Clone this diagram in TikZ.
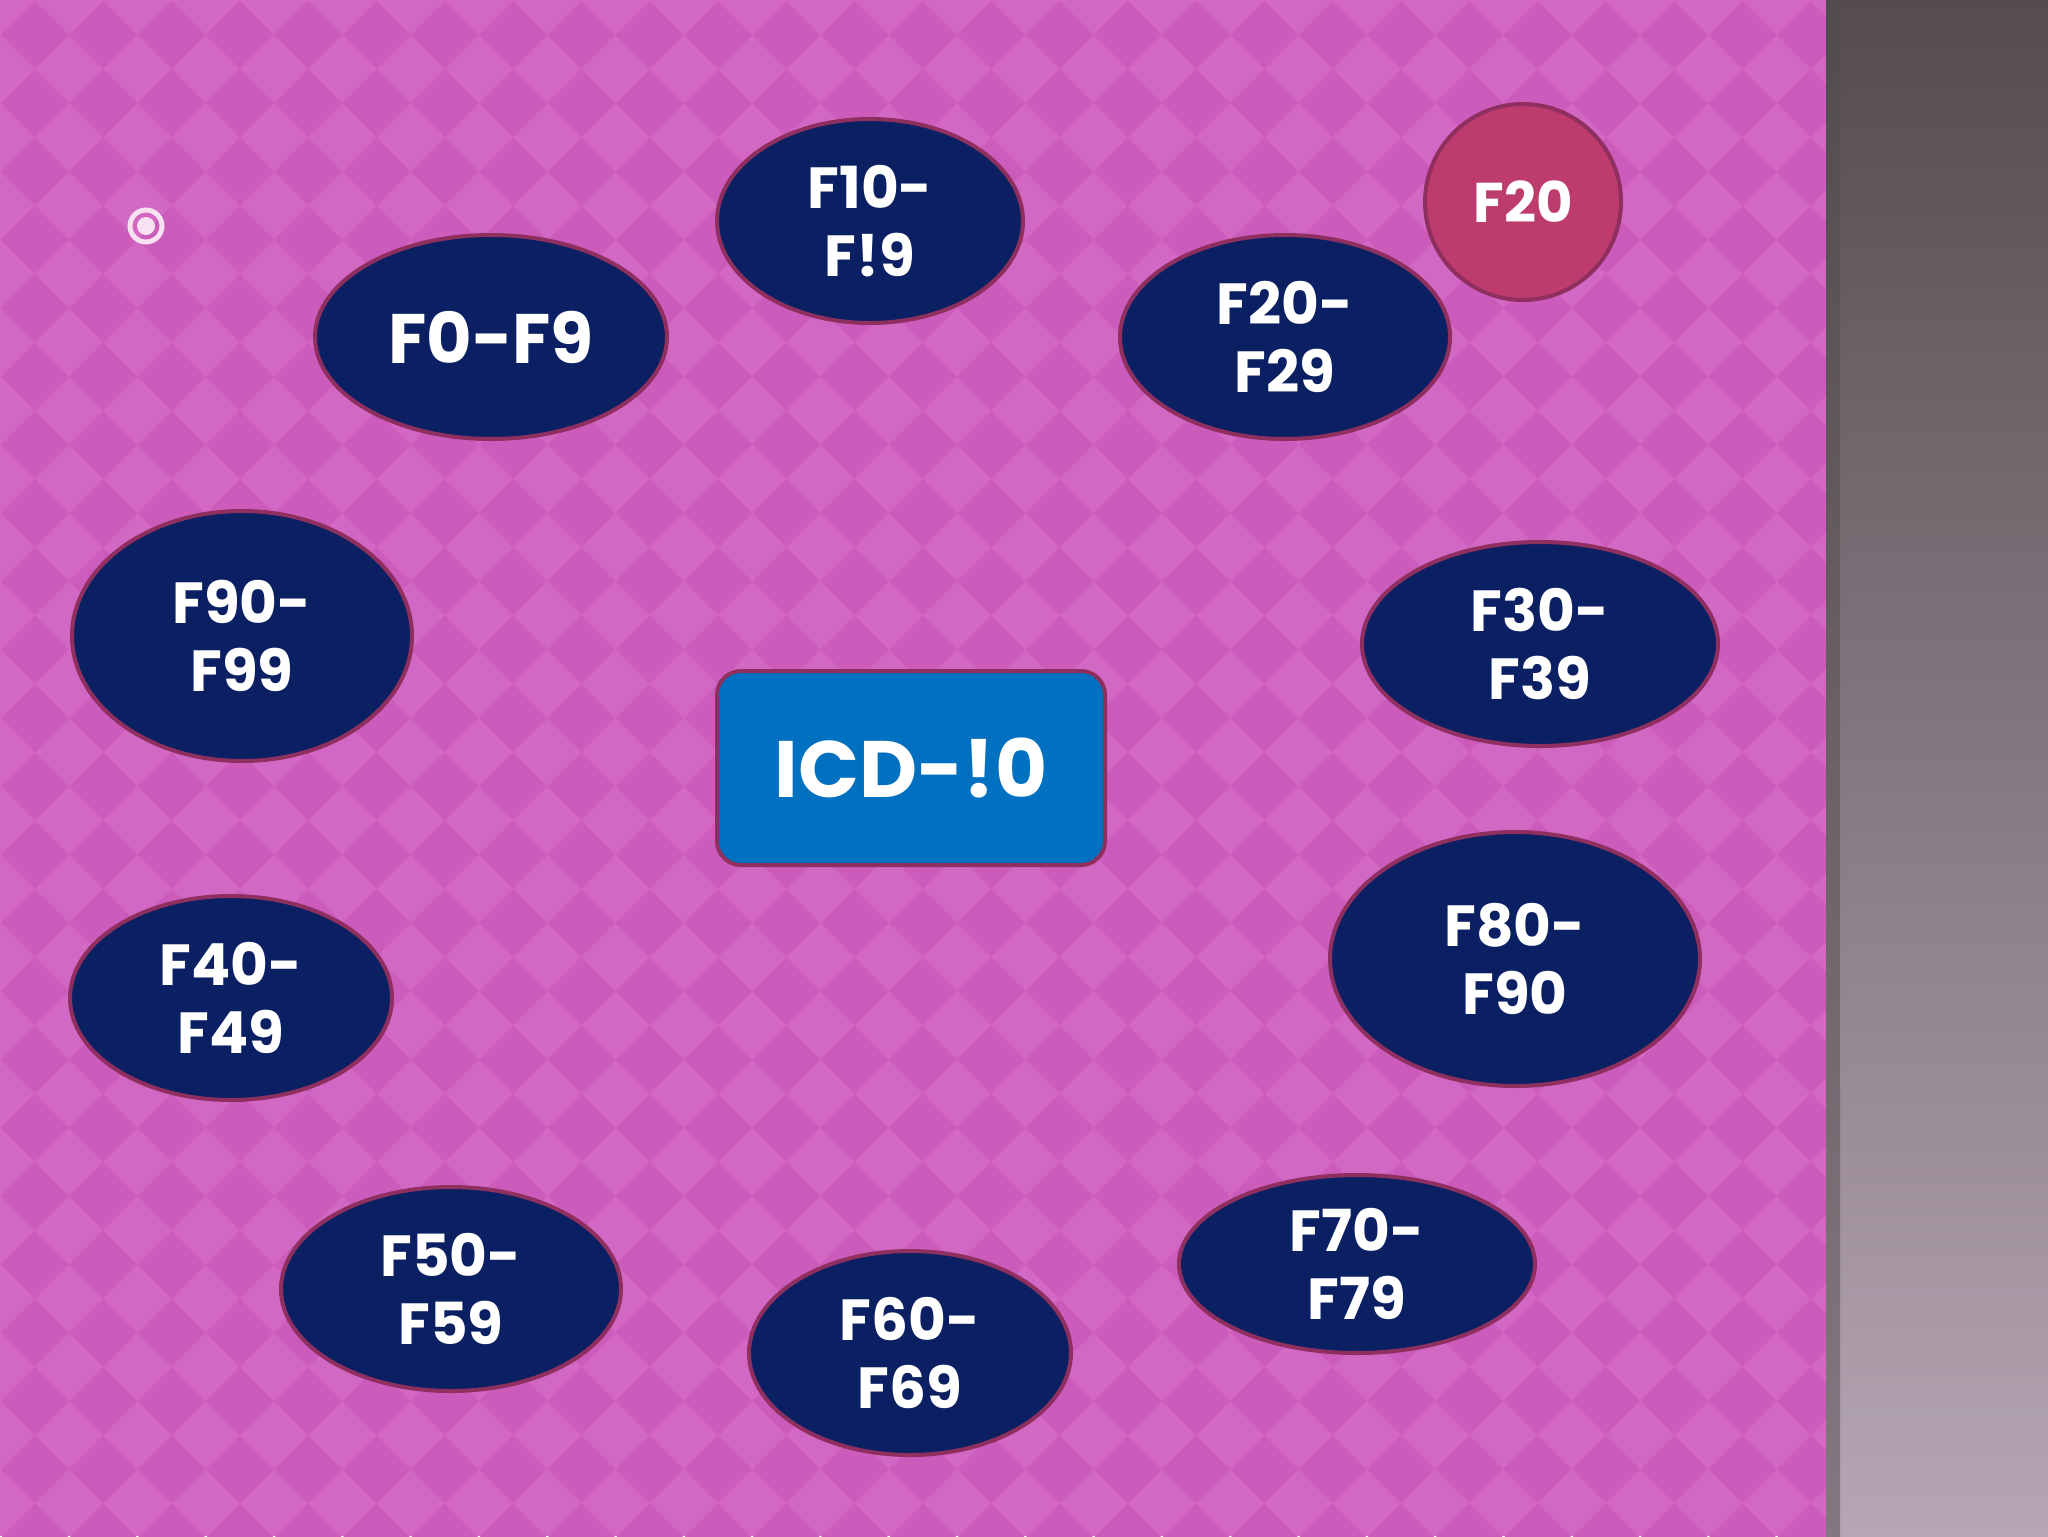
\documentclass[tikz,border=0pt]{standalone}
\usepackage{fontspec}
\setmainfont{Poppins}
\usetikzlibrary{shapes.geometric, positioning, backgrounds}
\definecolor{slidepink}{HTML}{D367C4}
\definecolor{diamondpink}{HTML}{CB5CBB}
\definecolor{navyfill}{HTML}{0B2062}
\definecolor{plumline}{HTML}{8E2F5F}
\definecolor{rosefill}{HTML}{BE3B6D}
\definecolor{icdblue}{HTML}{0070C0}
\definecolor{paneldark}{HTML}{544C4E}
\definecolor{panellight}{HTML}{B6A6B4}
\definecolor{bulletwhite}{HTML}{F8E2F2}
\tikzset{
  % Code range ellipses
  codegroup/.style={
    ellipse, draw=plumline, fill=navyfill, line width=2pt, text=white,
    font=\fontsize{29}{34}\selectfont\bfseries, align=center, inner sep=0pt,
  },
  % Single code circle
  codesingle/.style={
    circle, draw=plumline, fill=rosefill, line width=2pt, text=white,
    font=\fontsize{28}{32}\selectfont\bfseries, minimum size=98pt, inner sep=0pt,
  },
  % Central box
  hubbox/.style={
    rectangle, rounded corners=12pt, draw=plumline, fill=icdblue,
    line width=2pt, text=white, font=\fontsize{40}{46}\selectfont\bfseries,
    minimum width=194pt, minimum height=97pt,
  },
}

\begin{document}
\begin{tikzpicture}[x=0.5pt, y=-0.5pt]
  \useasboundingbox (0,0) rectangle (2048,1536);
  % Background
  \fill[slidepink] (0,0) rectangle (1826,1536);
  \begin{scope}
    \clip (0,0) rectangle (1826,1536);
    \foreach \i in {0,...,27} {
      \foreach \j in {0,...,23} {
        \fill[diamondpink] ({35+68.3*\i},{35+68.3*\j}) ++(-34,0) -- ++(34,-34) -- ++(34,34) -- ++(-34,34) -- cycle;
      }
    }
  \end{scope}
  \shade[top color=paneldark, bottom color=panellight] (1826,0) rectangle (2048,1536);
  \shade[left color=black!70, right color=paneldark, opacity=0.5] (1826,0) rectangle (1840,1536);

  % Bullet
  \draw[bulletwhite, line width=2.5pt] (146,226) circle (16);
  \fill[bulletwhite] (146,226) circle (9);

  % Nodes
  \node[hubbox] (icd) at (911,768) {ICD-!0};

  \node[codegroup, minimum width=176pt, minimum height=102pt,
        font=\fontsize{35}{40}\selectfont\bfseries] (f0) at (491,337) {F0-F9};
  \node[codegroup, minimum width=153pt, minimum height=102pt] (f10) at (870,221) {F10-\\F!9};
  \node[codegroup, minimum width=165pt, minimum height=102pt] (f20) at (1285,337) {F20-\\F29};
  \node[codesingle] (f20single) at (1523,202) {F20};
  \node[codegroup, minimum width=178pt, minimum height=102pt] (f30) at (1540,644) {F30-\\F39};
  \node[codegroup, minimum width=161pt, minimum height=102pt] (f40) at (231,998) {F40-\\F49};
  \node[codegroup, minimum width=170pt, minimum height=102pt] (f50) at (451,1289) {F50-\\F59};
  \node[codegroup, minimum width=161pt, minimum height=102pt] (f60) at (910,1353) {F60-\\F69};
  \node[codegroup, minimum width=178pt, minimum height=89pt] (f70) at (1357,1264) {F70-\\F79};
  \node[codegroup, minimum width=185pt, minimum height=127pt] (f80) at (1515,959) {F80-\\F90};
  \node[codegroup, minimum width=170pt, minimum height=125pt] (f90) at (242,636) {F90-\\F99};
\end{tikzpicture}
\end{document}
